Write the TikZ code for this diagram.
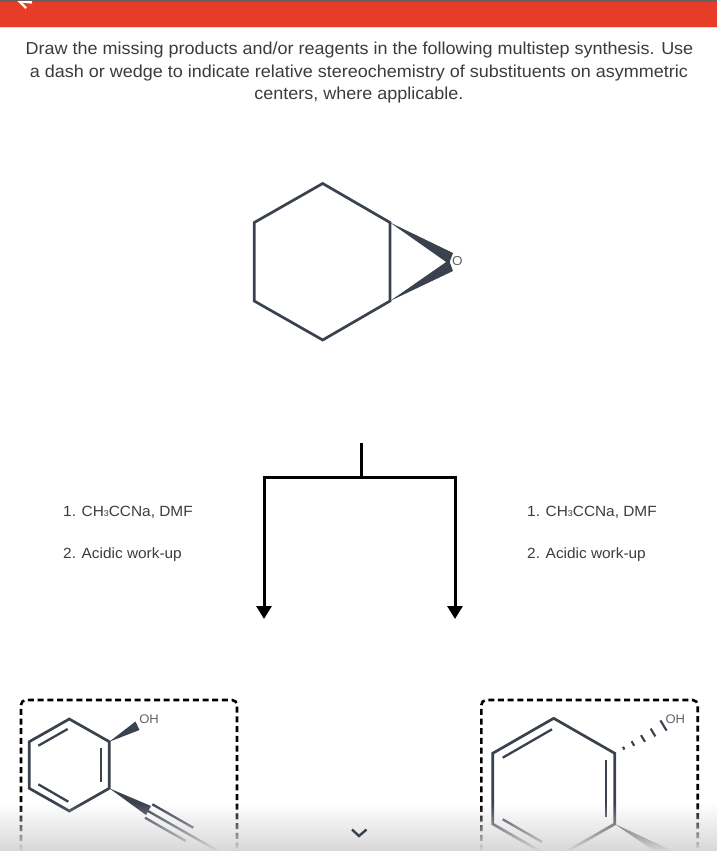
\documentclass[tikz,border=0pt]{standalone}
\usepackage{fontspec}
\setmainfont[FakeStretch=1.04]{Liberation Sans}
\usetikzlibrary{arrows.meta,fadings}
\definecolor{barred}{HTML}{E63C28}
\definecolor{bond}{HTML}{3A424E}
\definecolor{ink}{HTML}{3C3C3C}
\definecolor{atom}{HTML}{60656C}
\definecolor{fadegray}{HTML}{D8D8D8}
\tikzfading[name=botfade,top color=transparent!100,bottom color=transparent!0]
\tikzset{
 x=1pt,y=-1pt,
 bondline/.style={draw=bond,line width=2.7pt,line join=miter},
 innerbond/.style={draw=bond,line width=2.3pt},
 wedgefill/.style={fill=bond,draw=none},
 hashbond/.style={draw=bond,line width=2.1pt},
 atomlabel/.style={text=atom,font=\fontsize{12.5}{14}\selectfont,inner sep=0pt},
 qtext/.style={text=ink,font=\fontsize{17.3}{20}\selectfont,inner sep=0pt,anchor=base},
 reagent/.style={text=ink,font=\fontsize{14.8}{18}\selectfont,inner sep=0pt,anchor=base west},
 flow/.style={draw=black,line width=3pt},
 flowarrow/.style={flow,-{Triangle[width=15pt,length=13pt]}},
 answerbox/.style={draw=black,line width=2.6pt,dash pattern=on 6pt off 3.7pt,rounded corners=5pt},
}
\newcommand{\subthree}{\raisebox{0pt}{\fontsize{8.5}{9}\selectfont 3}}
\begin{document}
\begin{tikzpicture}
\useasboundingbox (0,0) rectangle (717,855);
\fill[white] (0,0) rectangle (717,855);
% top bar
\fill[barred] (0,0) rectangle (717,26.5);
\fill[black!62] (0,0) rectangle (717,1.5);
\fill[black!12] (0,26.5) rectangle (717,27.5);
\begin{scope}
\clip (0,1.5) rectangle (717,26);
\draw[white,line width=2.4pt] (32,2.5) -- (19,1) -- (26,8);
\end{scope}
% question
\node[qtext] (q1) at (359.5,54) {Draw the missing products and/or reagents in the following multistep synthesis. Use};
\node[qtext] (q2) at (359,77) {a dash or wedge to indicate relative stereochemistry of substituents on asymmetric};
\node[qtext] (q3) at (359,99.5) {centers, where applicable.};
% epoxide
\coordinate (a1) at (322.7,183.5);
\coordinate (a2) at (390,222.5);
\coordinate (a3) at (390,301);
\coordinate (a4) at (322.7,340);
\coordinate (a5) at (254.3,301);
\coordinate (a6) at (254.3,222.5);
\draw[bondline] (a1)--(a2)--(a3)--(a4)--(a5)--(a6)--cycle;
\fill[wedgefill] (a2) -- (453,253) -- (449,264) -- cycle;
\fill[wedgefill] (a3) -- (453,271) -- (449,260) -- cycle;
\node[atomlabel,fill=white,circle,inner sep=0pt,font=\fontsize{13}{14}\selectfont] (oxy) at (457.5,261.5) {O};
% flow
\coordinate (f0) at (361,443);
\coordinate (f1) at (361,477);
\coordinate (fl) at (264,477);
\coordinate (fr) at (455,477);
\coordinate (fle) at (264,619);
\coordinate (fre) at (455,619);
\draw[flow] (f0) -- (f1);
\draw[flow] ([xshift=-1.5pt]fl) -- ([xshift=1.5pt]fr);
\draw[flowarrow] (fl) -- (fle);
\draw[flowarrow] (fr) -- (fre);
% reagents
\node[reagent] (r1a) at (63,516) {1. CH\subthree CCNa, DMF};
\node[reagent] (r1b) at (63,558) {2. Acidic work-up};
\node[reagent] (r2a) at (527,516) {1. CH\subthree CCNa, DMF};
\node[reagent] (r2b) at (527,558) {2. Acidic work-up};
% answer boxes
\draw[answerbox] (21,870) -- (21,700) -- (237,700) -- (237,870);
\draw[answerbox] (481.3,870) -- (481.3,700) -- (697.7,700) -- (697.7,870);
% left molecule
\coordinate (b1) at (69.3,719);
\coordinate (b2) at (109.3,741.7);
\coordinate (b3) at (109.3,788.3);
\coordinate (b4) at (69.3,811);
\coordinate (b5) at (29.3,788.3);
\coordinate (b6) at (29.3,741.7);
\draw[bondline] (b1)--(b2)--(b3)--(b4)--(b5)--(b6)--cycle;
\draw[innerbond] (38.3,745.7)--(67.7,729);
\draw[innerbond] (101.3,748.3)--(101.3,781.7);
\draw[innerbond] (38.3,784.3)--(68.3,801.7);
\fill[wedgefill] (b2) -- (135.5,721.5) -- (139.5,730) -- cycle;
\fill[wedgefill] (b3) -- (151,806) -- (146,815) -- cycle;
\node[atomlabel] (oh1) at (149,719) {OH};
\draw[innerbond] (152.3,804.3)--(193.3,827.7);
\draw[innerbond] (145,817.7)--(185.7,841);
\draw[innerbond] (148,811)--(218,851);
% right molecule
\coordinate (c1) at (553.7,718.3);
\coordinate (c2) at (614.7,753.3);
\coordinate (c3) at (614.7,824);
\coordinate (c4) at (553.7,859);
\coordinate (c5) at (492.7,824);
\coordinate (c6) at (492.7,753.3);
\begin{scope}
\clip (0,0) rectangle (717,851);
\draw[bondline] (c1)--(c2)--(c3)--(c4)--(c5)--(c6)--cycle;
\draw[innerbond] (502.7,757.7)--(552,729.3);
\draw[innerbond] (605.7,760)--(605.7,816.7);
\draw[innerbond] (502.7,819.3)--(542,842);
\fill[wedgefill] (c3) -- (673,851) -- (654,851) -- cycle;
\end{scope}
\draw[hashbond] (623,746.8)--(624.4,749.6);
\draw[hashbond] (631.6,741.2)--(634.2,745.8);
\draw[hashbond] (641,735.2)--(645,741.8);
\draw[hashbond] (650.6,728.6)--(655.4,736.4);
\draw[hashbond] (660.4,720.4)--(666.6,730.6);
\node[atomlabel] (oh2) at (675.3,719) {OH};
% bottom fade
\fill[fadegray,path fading=botfade] (0,803) rectangle (717,851);
\fill[white] (0,851) rectangle (717,855);
\draw[bond,line width=2.4pt] (352,829.5)--(359,836)--(366.5,829.5);
\end{tikzpicture}
\end{document}
